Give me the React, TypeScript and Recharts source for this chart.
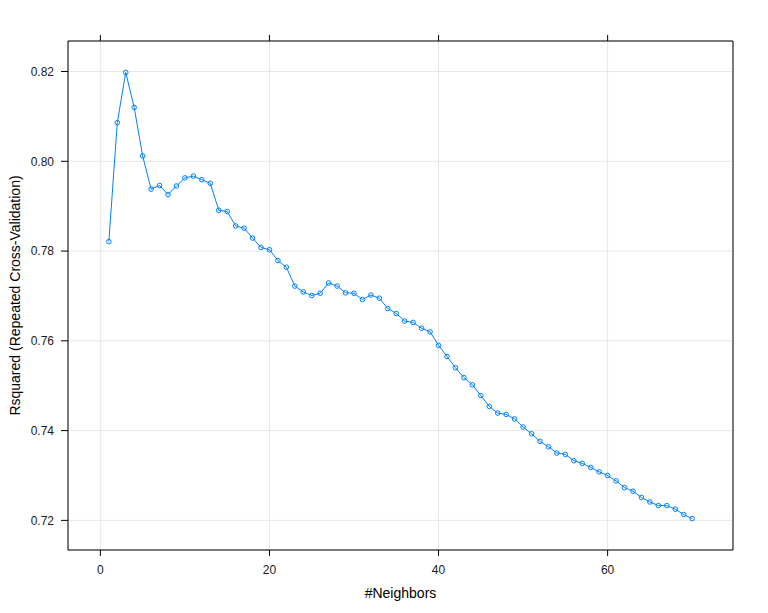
import React from "react";
import {
  LineChart,
  Line,
  XAxis,
  YAxis,
  CartesianGrid,
} from "recharts";

// number of neighbors tried in the knn tuning grid
const neighbors = [
  1, 2, 3, 4, 5, 6, 7, 8, 9, 10,
  11, 12, 13, 14, 15, 16, 17, 18, 19, 20,
  21, 22, 23, 24, 25, 26, 27, 28, 29, 30,
  31, 32, 33, 34, 35, 36, 37, 38, 39, 40,
  41, 42, 43, 44, 45, 46, 47, 48, 49, 50,
  51, 52, 53, 54, 55, 56, 57, 58, 59, 60,
  61, 62, 63, 64, 65, 66, 67, 68, 69, 70,
];

// resampled Rsquared for each k
const rsquared = [
  0.7821, 0.8086, 0.8198, 0.8120, 0.8012, 0.7938, 0.7946, 0.7926, 0.7945, 0.7963,
  0.7967, 0.7959, 0.7951, 0.7891, 0.7888, 0.7856, 0.7851, 0.7829, 0.7808, 0.7803,
  0.7779, 0.7764, 0.7722, 0.7709, 0.7701, 0.7706, 0.7729, 0.7722, 0.7707, 0.7706,
  0.7692, 0.7702, 0.7695, 0.7672, 0.7661, 0.7644, 0.7641, 0.7628, 0.7620, 0.7590,
  0.7565, 0.7540, 0.7518, 0.7502, 0.7478, 0.7454, 0.7439, 0.7436, 0.7426, 0.7408,
  0.7393, 0.7376, 0.7364, 0.7350, 0.7347, 0.7333, 0.7327, 0.7318, 0.7308, 0.7300,
  0.7288, 0.7273, 0.7265, 0.7251, 0.7241, 0.7233, 0.7233, 0.7225, 0.7213, 0.7204,
];

const xTicks = [0, 20, 40, 60];
const yTicks = [0.72, 0.74, 0.76, 0.78, 0.8, 0.82];

const FONT = '"Liberation Sans", Arial, sans-serif';
const BLUE = "#0080ff";
const TICK_TEXT = "#1a1a1a";

// tick marks only, no labels (top and right sides of the lattice box)
const NoLabel = () => <g />;

export default function App() {
  const data = neighbors.map((k, i) => ({ k, r2: rsquared[i] }));

  // lattice pads the data range by 7% on each side
  const xDomain = [-3.83, 74.83];
  const yDomain = [0.7134, 0.8268];

  return (
    <div style={{ position: "absolute", left: 0, top: 0, background: "#fff" }}>
      <LineChart
        width={768}
        height={613}
        data={data}
        margin={{ top: 0, right: 0, bottom: 0, left: 0 }}
        style={{ fontFamily: FONT }}
      >
        <CartesianGrid
          xAxisId="bottom"
          yAxisId="left"
          stroke="#e6e6e6"
          strokeWidth={1}
        />
        <XAxis
          xAxisId="bottom"
          dataKey="k"
          type="number"
          domain={xDomain}
          ticks={xTicks}
          height={63}
          stroke="#000"
          tickSize={6}
          tickMargin={9}
          tick={{ fill: TICK_TEXT, fontSize: 12, fontFamily: FONT }}
          label={{
            value: "#Neighbors",
            position: "insideBottom",
            offset: 15,
            fill: "#000",
            fontSize: 14,
            fontFamily: FONT,
          }}
        />
        <XAxis
          xAxisId="top"
          orientation="top"
          dataKey="k"
          type="number"
          domain={xDomain}
          ticks={xTicks}
          height={41}
          stroke="#000"
          tickSize={6}
          tick={NoLabel}
        />
        <YAxis
          yAxisId="left"
          type="number"
          domain={yDomain}
          ticks={yTicks}
          width={68}
          stroke="#000"
          tickSize={7}
          tickMargin={7}
          tickFormatter={(v) => Number(v).toFixed(2)}
          tick={{ fill: TICK_TEXT, fontSize: 12, fontFamily: FONT }}
          label={{
            content: () => (
              <text
                x={19.5}
                y={295.5}
                transform="rotate(-90 19.5 295.5)"
                textAnchor="middle"
                fill="#000"
                fontSize={14}
                fontFamily={FONT}
              >
                Rsquared (Repeated Cross-Validation)
              </text>
            ),
          }}
        />
        <YAxis
          yAxisId="right"
          orientation="right"
          type="number"
          domain={yDomain}
          ticks={yTicks}
          width={35}
          stroke="#000"
          tickSize={7}
          tick={NoLabel}
        />
        <Line
          xAxisId="bottom"
          yAxisId="left"
          type="linear"
          dataKey="r2"
          stroke={BLUE}
          strokeWidth={1}
          dot={{ r: 2.3, stroke: BLUE, strokeWidth: 1, fill: "none" }}
          activeDot={false}
          isAnimationActive={false}
        />
      </LineChart>
    </div>
  );
}
